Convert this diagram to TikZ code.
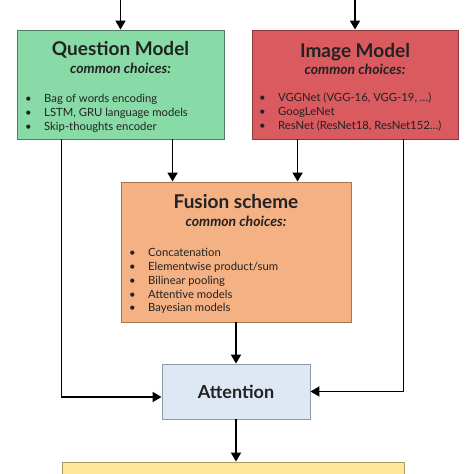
\documentclass[tikz,border=0pt]{standalone}
\usepackage{fontspec}
\setmainfont{Lato}
\usetikzlibrary{arrows.meta,calc}
\definecolor{qfill}{HTML}{88DBA6}
\definecolor{qdraw}{HTML}{4F7F60}
\definecolor{ifill}{HTML}{D95A5F}
\definecolor{idraw}{HTML}{8C3A3D}
\definecolor{ffill}{HTML}{F4B184}
\definecolor{fdraw}{HTML}{A67552}
\definecolor{afill}{HTML}{DEE8F4}
\definecolor{adraw}{HTML}{8F9BA8}
\definecolor{yfill}{HTML}{FFE699}
\definecolor{ydraw}{HTML}{A89A62}
\definecolor{txt}{HTML}{222222}
\tikzset{
  box/.style={draw, line width=0.9pt, rectangle, inner sep=0pt},
  arr/.style={line width=1.8pt, -{Triangle[length=9pt,width=10pt]}},
  ttl/.style={anchor=base, inner sep=0pt, text=txt, font=\fontsize{19}{22}\selectfont\bfseries},
  sub/.style={anchor=base, inner sep=0pt, text=txt, font=\fontsize{14}{16}\selectfont\bfseries\itshape},
  lst/.style={anchor=west, inner sep=0pt, text=txt, font=\fontsize{11.3}{13.8}\selectfont, align=left},
}
\newcommand{\bl}{\makebox[20pt][l]{\hspace{1pt}\textbullet}}
\begin{document}
\begin{tikzpicture}[x=1pt,y=-1pt]
\useasboundingbox (0,0) rectangle (474,474);
\clip (0,0) rectangle (474,474);
% boxes
\node[box, fill=qfill, draw=qdraw, minimum width=207pt, minimum height=109pt] (q) at (120.5,84.5) {};
\node[box, fill=ifill, draw=idraw, minimum width=206pt, minimum height=109pt] (im) at (355,84.5) {};
\node[box, fill=ffill, draw=fdraw, minimum width=230pt, minimum height=140pt] (f) at (236,252) {};
\node[box, fill=afill, draw=adraw, minimum width=148pt, minimum height=55pt] (att) at (236,391.5) {};
\node[box, fill=yfill, draw=ydraw, minimum width=342pt, minimum height=60pt] (out) at (233,492) {};
% texts
\node[ttl] (qt) at (120.5,55) {Question Model};
\node[sub] (qs) at (120.5,73) {common choices:};
\node[lst] (ql) at (24,114) {\begin{tabular}{@{}l@{}}\bl Bag of words encoding\\ \bl LSTM, GRU language models\\ \bl Skip-thoughts encoder\end{tabular}};
\node[ttl] (it) at (355,57) {Image Model};
\node[sub] (is) at (355,74) {common choices:};
\node[lst] (il) at (258,112.5) {\begin{tabular}{@{}l@{}}\bl VGGNet (VGG-16, VGG-19, \dots)\\ \bl GoogLeNet\\ \bl ResNet (ResNet18, ResNet152\dots)\end{tabular}};
\node[ttl] (ft) at (236,208) {Fusion scheme};
\node[sub] (fs) at (236,226) {common choices:};
\node[lst] (fl) at (128,281.5) {\begin{tabular}{@{}l@{}}\bl Concatenation\\ \bl Elementwise product/sum\\ \bl Bilinear pooling\\ \bl Attentive models\\ \bl Bayesian models\end{tabular}};
\node[ttl, font=\fontsize{18}{20}\selectfont\bfseries] (at) at (236,398.5) {Attention};
% connectors
\coordinate (qin) at (120.5,0);
\coordinate (iin) at (355,0);
\draw[arr] (qin) -- (q.north);
\draw[arr] (iin) -- (im.north);
\draw[arr] ($(q.south west)+(156,0)$) -- ($(f.north west)+(52,0)$);
\draw[arr] ($(im.south west)+(46,0)$) -- ($(f.north west)+(177,0)$);
\draw[arr] (f.south) -- (att.north);
\draw[arr] (att.south) -- (att.south |- out.north);
\draw[arr] ($(q.south west)+(45,0)$) |- ($(att.west)+(0,5.5)$);
\draw[arr] ($(im.south west)+(152,0)$) |- (att.east);
\end{tikzpicture}
\end{document}
